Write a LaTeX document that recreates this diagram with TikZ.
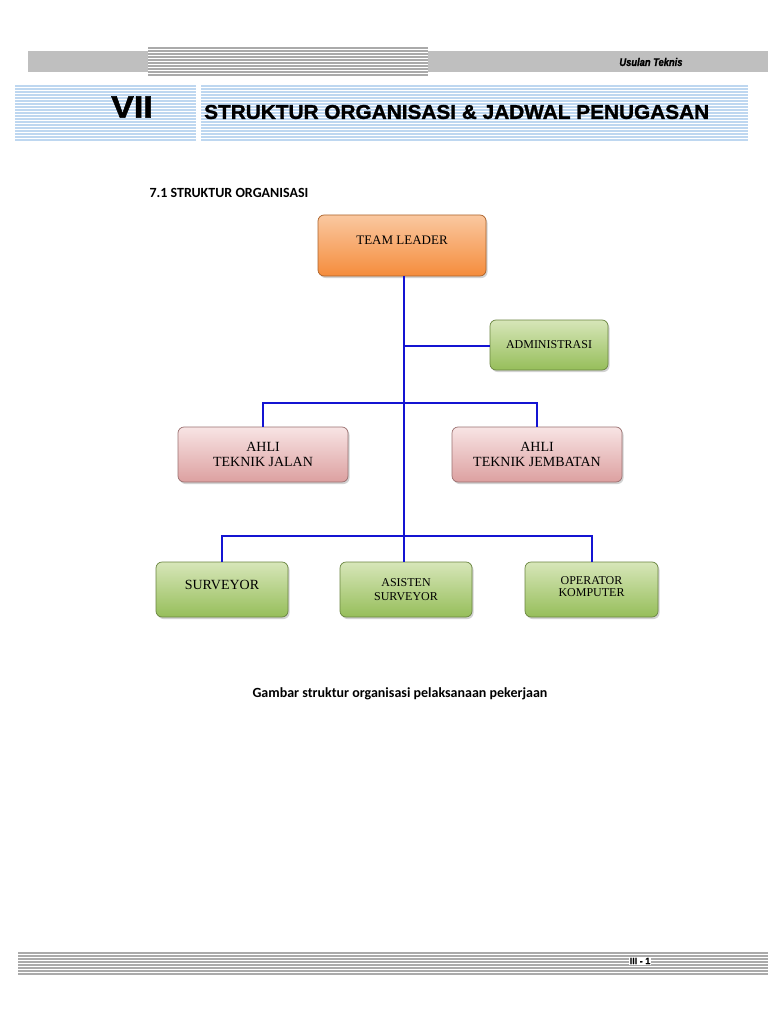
\documentclass[tikz,border=0pt]{standalone}
\usepackage{fontspec}
\setmainfont{Liberation Serif}
\newfontfamily\hdfont[FakeBold=1.5]{Liberation Sans}
\newfontfamily\calfont{Carlito}
\usetikzlibrary{shadows}
\definecolor{strp}{RGB}{170,170,170}
\definecolor{bstrp}{RGB}{190,215,240}
\definecolor{lnk}{RGB}{20,20,210}
\definecolor{og1}{RGB}{250,200,160}
\definecolor{og2}{RGB}{245,140,60}
\definecolor{gr1}{RGB}{215,230,185}
\definecolor{gr2}{RGB}{150,190,90}
\definecolor{pk1}{RGB}{248,228,228}
\definecolor{pk2}{RGB}{220,160,160}
\begin{document}
\begin{tikzpicture}[x=1pt,y=-1pt,
 box/.style={rounded corners=6pt,draw=#1,line width=0.7pt,drop shadow={shadow xshift=1.5pt,shadow yshift=-2pt,opacity=0.35},inner sep=0pt,align=center,font=\fontsize{13}{14}\selectfont},
 org/.style={box=og2!70!black,top color=og1,bottom color=og2},
 grn/.style={box=gr2!70!black,top color=gr1,bottom color=gr2},
 pnk/.style={box=pk2!70!black,top color=pk1,bottom color=pk2},
 lk/.style={lnk,line width=1.3pt}]
\useasboundingbox (0,0) rectangle (768,1024);
\fill[white] (0,0) rectangle (768,1024);
% header
\fill[black!25] (28,51) rectangle (768,72);
\fill[white] (148,47) rectangle (428,76);
\foreach \y in {48,51,...,76} \draw[strp,line width=1.2pt] (148,\y) -- (428,\y);
\node[anchor=east,font=\hdfont\bfseries\itshape\fontsize{11}{12}\selectfont] (usl) at (686,62) {\scalebox{0.85}[1]{Usulan Teknis}};
\foreach \y in {86,89,...,140} {\draw[bstrp,line width=1.2pt] (15,\y) -- (196,\y); \draw[bstrp,line width=1.2pt] (201,\y) -- (748,\y);}
\node[inner sep=1pt,font=\hdfont\bfseries\fontsize{31}{32}\selectfont] (vii) at (132,107) {\scalebox{1.1}[1]{VII}};
\node[inner sep=1pt,anchor=west,font=\hdfont\bfseries\fontsize{20}{21}\selectfont] (ttl) at (203,112) {\scalebox{1.04}[1]{STRUKTUR ORGANISASI \& JADWAL PENUGASAN}};
\node[anchor=west,font=\calfont\bfseries\fontsize{14}{15}\selectfont] (sec) at (146,193) {7.1 STRUKTUR ORGANISASI};
% boxes
\node[org,minimum width=168pt,minimum height=61pt] (tl) at (402,245.5) {\raisebox{10pt}{TEAM LEADER}};
\node[grn,minimum width=118pt,minimum height=50pt,font=\fontsize{12}{13}\selectfont] (adm) at (549,345) {ADMINISTRASI};
\node[pnk,minimum width=170pt,minimum height=55pt,font=\fontsize{14}{15}\selectfont] (aj) at (263,454.5) {AHLI\\TEKNIK JALAN};
\node[pnk,minimum width=170pt,minimum height=55pt,font=\fontsize{14}{15}\selectfont] (ajb) at (537,454.5) {AHLI\\TEKNIK JEMBATAN};
\node[grn,minimum width=132pt,minimum height=55pt,font=\fontsize{14}{15}\selectfont] (sv) at (222,589.5) {\raisebox{10pt}{SURVEYOR}};
\node[grn,minimum width=132pt,minimum height=55pt,font=\fontsize{12}{14}\selectfont] (as) at (406,589.5) {ASISTEN\\SURVEYOR};
\node[grn,minimum width=133pt,minimum height=55pt,font=\fontsize{12}{14}\selectfont] (op) at (591.5,589.5) {\raisebox{6pt}{\shortstack{OPERATOR\\KOMPUTER}}};
% connectors
\coordinate (j1) at (404,346);
\coordinate (j2) at (404,403);
\coordinate (j3) at (404,536);
\coordinate (j4) at (592,536);
\draw[lk] (tl.south -| j1) -- (j3) -- (as.north -| j3);
\draw[lk] (j1) -- (j1 -| adm.west);
\draw[lk] (aj.north) -- (aj.north |- j2) -- (ajb.north |- j2) -- (ajb.north);
\draw[lk] (sv.north) -- (sv.north |- j3) -- (j4) -- (op.north -| j4);
\node[font=\calfont\bfseries\fontsize{14}{15}\selectfont] (cap) at (400,694) {Gambar struktur organisasi pelaksanaan pekerjaan};
% footer
\foreach \y in {953,956,...,974} \draw[strp,line width=1.2pt] (18,\y) -- (768,\y);
\node[fill=white,inner sep=1pt,font=\hdfont\bfseries\fontsize{9}{10}\selectfont] (pg) at (640,961) {III - 1};
\end{tikzpicture}
\end{document}
